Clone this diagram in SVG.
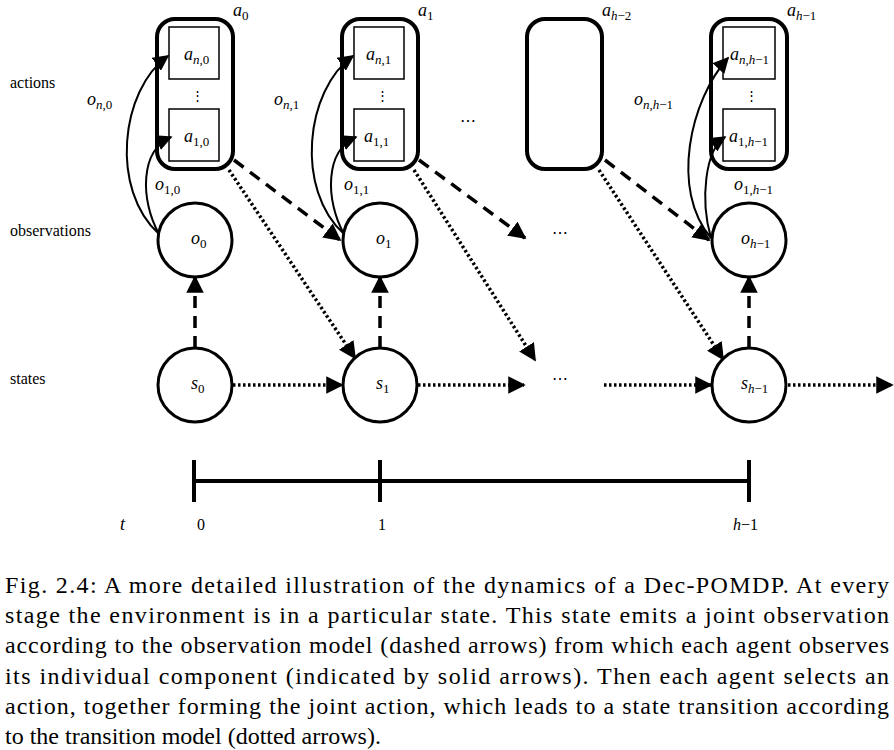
<svg xmlns="http://www.w3.org/2000/svg" width="894" height="750" viewBox="0 0 894 750">
<style>
text{font-family:"Liberation Serif","Times New Roman",serif;fill:#000}
.m{font-style:italic;font-size:18px}
.sub{font-size:13px;font-style:normal}
.lbl{font-size:16px}
.box{fill:none;stroke:#000;stroke-width:4}
.sq{fill:#fff;stroke:#000;stroke-width:1.5}
.c{fill:#fff;stroke:#000;stroke-width:3}
.da{fill:none;stroke:#000;stroke-width:3.5;stroke-dasharray:12,8}
.dt{fill:none;stroke:#000;stroke-width:3.5;stroke-dasharray:2.5,2.5}
.so{fill:none;stroke:#000;stroke-width:2}
text.cap{font-size:24px}
</style>
<defs>
<marker id="ah" viewBox="0 0 10 10" refX="9" refY="5" markerWidth="5" markerHeight="5" markerUnits="strokeWidth" orient="auto"><path d="M0,0L10,5L0,10z"/></marker>
<marker id="ah2" viewBox="0 0 10 10" refX="9" refY="5" markerWidth="8" markerHeight="8" markerUnits="strokeWidth" orient="auto"><path d="M0,0L10,5L0,10z"/></marker>
</defs>
<text class="lbl" x="10" y="88">actions</text>
<text class="lbl" x="10" y="236">observations</text>
<text class="lbl" x="10" y="384">states</text>
<g id="a0"><rect class="box" x="157" y="19" width="76" height="150" rx="18"/><rect class="sq" x="169" y="27" width="50" height="52"/><rect class="sq" x="169" y="109" width="50" height="52"/>
<text class="m" x="184" y="60">a<tspan class="sub" dy="4"><tspan font-style="italic">n</tspan>,0</tspan></text><text x="191" y="100" class="sub">⋮</text><text class="m" x="184" y="142">a<tspan class="sub" dy="4">1,0</tspan></text><text class="m" x="233" y="16">a<tspan class="sub" dy="4">0</tspan></text></g>
<g id="a1"><rect class="box" x="342" y="19" width="76" height="150" rx="18"/><rect class="sq" x="354" y="27" width="50" height="52"/><rect class="sq" x="354" y="109" width="50" height="52"/>
<text class="m" x="366" y="60">a<tspan class="sub" dy="4"><tspan font-style="italic">n</tspan>,1</tspan></text><text x="376" y="100" class="sub">⋮</text><text class="m" x="364" y="142">a<tspan class="sub" dy="4">1,1</tspan></text><text class="m" x="418" y="16">a<tspan class="sub" dy="4">1</tspan></text></g>
<g id="ah2g"><rect class="box" x="527" y="19" width="75" height="150" rx="18"/><text class="m" x="602" y="16">a<tspan class="sub" dy="4"><tspan font-style="italic">h</tspan>−2</tspan></text></g>
<g id="ah1"><rect class="box" x="711" y="19" width="76" height="150" rx="18"/><rect class="sq" x="723" y="27" width="52" height="52"/><rect class="sq" x="723" y="109" width="52" height="52"/>
<text class="m" x="730" y="60">a<tspan class="sub" dy="4"><tspan font-style="italic">n</tspan>,<tspan font-style="italic">h</tspan>−1</tspan></text><text x="745" y="100" class="sub">⋮</text><text class="m" x="729" y="142">a<tspan class="sub" dy="4">1,<tspan font-style="italic">h</tspan>−1</tspan></text><text class="m" x="787" y="16">a<tspan class="sub" dy="4"><tspan font-style="italic">h</tspan>−1</tspan></text></g>
<g id="o0"><circle class="c" cx="195" cy="240" r="37"/><text class="m" x="191" y="244">o<tspan class="sub" dy="4">0</tspan></text></g>
<g id="o1"><circle class="c" cx="380" cy="240" r="37"/><text class="m" x="376" y="244">o<tspan class="sub" dy="4">1</tspan></text></g>
<g id="oh1"><circle class="c" cx="749" cy="240" r="37"/><text class="m" x="741" y="244">o<tspan class="sub" dy="4"><tspan font-style="italic">h</tspan>−1</tspan></text></g>
<g id="s0"><circle class="c" cx="195" cy="385" r="37"/><text class="m" x="191" y="389">s<tspan class="sub" dy="4">0</tspan></text></g>
<g id="s1"><circle class="c" cx="380" cy="385" r="37"/><text class="m" x="376" y="389">s<tspan class="sub" dy="4">1</tspan></text></g>
<g id="sh1"><circle class="c" cx="749" cy="385" r="37"/><text class="m" x="741" y="389">s<tspan class="sub" dy="4"><tspan font-style="italic">h</tspan>−1</tspan></text></g>
<g id="connectors">
<path class="so" d="M159,234 C110,190 120,90 168,56" marker-end="url(#ah2)"/>
<path class="so" d="M159,234 C140,200 140,150 171,137" marker-end="url(#ah2)"/>
<path class="so" d="M344,234 C295,190 305,90 353,56" marker-end="url(#ah2)"/>
<path class="so" d="M344,234 C325,200 325,150 356,137" marker-end="url(#ah2)"/>
<path class="so" d="M711,238 C670,190 690,100 728,58" marker-end="url(#ah2)"/>
<path class="so" d="M711,238 C700,200 705,150 725,137" marker-end="url(#ah2)"/>
<path class="da" d="M234,160 L340,240" marker-end="url(#ah)"/>
<path class="da" d="M419,160 L525,238" marker-end="url(#ah)"/>
<path class="da" d="M605,160 L709,240" marker-end="url(#ah)"/>
<path class="dt" d="M229,170 L355,358" marker-end="url(#ah)"/>
<path class="dt" d="M414,170 L535,360" marker-end="url(#ah)"/>
<path class="dt" d="M599,170 L723,359" marker-end="url(#ah)"/>
<path class="dt" d="M233,385 L342,385" marker-end="url(#ah)"/>
<path class="dt" d="M418,385 L524,385" marker-end="url(#ah)"/>
<path class="dt" d="M604,385 L711,385" marker-end="url(#ah)"/>
<path class="dt" d="M788,385 L892,385" marker-end="url(#ah)"/>
<path class="da" d="M195,348 L195,277" marker-end="url(#ah)"/>
<path class="da" d="M380,348 L380,277" marker-end="url(#ah)"/>
<path class="da" d="M749,348 L749,277" marker-end="url(#ah)"/>
</g>
<text class="m" x="87" y="105">o<tspan class="sub" dy="4"><tspan font-style="italic">n</tspan>,0</tspan></text>
<text class="m" x="155" y="190">o<tspan class="sub" dy="4">1,0</tspan></text>
<text class="m" x="274" y="105">o<tspan class="sub" dy="4"><tspan font-style="italic">n</tspan>,1</tspan></text>
<text class="m" x="344" y="190">o<tspan class="sub" dy="4">1,1</tspan></text>
<text class="m" x="634" y="105">o<tspan class="sub" dy="4"><tspan font-style="italic">n</tspan>,<tspan font-style="italic">h</tspan>−1</tspan></text>
<text class="m" x="734" y="190">o<tspan class="sub" dy="4">1,<tspan font-style="italic">h</tspan>−1</tspan></text>
<text class="lbl" x="460" y="126">⋯</text>
<text class="lbl" x="552" y="238">⋯</text>
<text class="lbl" x="552" y="384">⋯</text>
<g id="timeline" stroke="#000" stroke-width="4"><line x1="194" y1="481" x2="749" y2="481"/><line x1="194" y1="460" x2="194" y2="502"/><line x1="380" y1="460" x2="380" y2="502"/><line x1="749" y1="460" x2="749" y2="502"/></g>
<text class="m" x="120" y="530">t</text>
<text class="lbl" x="197" y="530">0</text>
<text class="lbl" x="378" y="530">1</text>
<text class="lbl" x="733" y="530"><tspan font-style="italic">h</tspan>−1</text>
<text class="cap" x="5" y="593" textLength="884" lengthAdjust="spacing">Fig. 2.4: A more detailed illustration of the dynamics of a Dec-POMDP. At every</text>
<text class="cap" x="5" y="623" textLength="884" lengthAdjust="spacing">stage the environment is in a particular state. This state emits a joint observation</text>
<text class="cap" x="5" y="653" textLength="884" lengthAdjust="spacing">according to the observation model (dashed arrows) from which each agent observes</text>
<text class="cap" x="5" y="684" textLength="884" lengthAdjust="spacing">its individual component (indicated by solid arrows). Then each agent selects an</text>
<text class="cap" x="5" y="714" textLength="884" lengthAdjust="spacing">action, together forming the joint action, which leads to a state transition according</text>
<text class="cap" x="5" y="744">to the transition model (dotted arrows).</text>
</svg>
